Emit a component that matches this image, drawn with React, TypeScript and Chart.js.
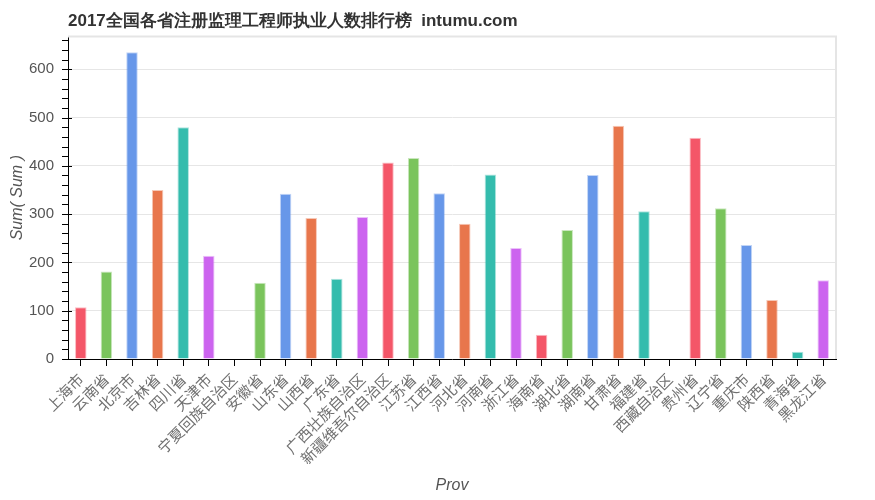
import { useEffect, useRef } from "react";
import { Chart, registerables } from "chart.js";

Chart.register(...registerables);

const provinces = [
  "上海市", "云南省", "北京市", "吉林省", "四川省", "天津市", "宁夏回族自治区", "安徽省",
  "山东省", "山西省", "广东省", "广西壮族自治区", "新疆维吾尔自治区", "江苏省", "江西省",
  "河北省", "河南省", "浙江省", "海南省", "湖北省", "湖南省", "甘肃省", "福建省",
  "西藏自治区", "贵州省", "辽宁省", "重庆市", "陕西省", "青海省", "黑龙江省",
];
const sums = [
  107, 181, 635, 350, 480, 214, 0, 158, 342, 292, 166, 294, 407, 416, 343,
  280, 382, 230, 50, 267, 381, 483, 306, 0, 458, 312, 236, 122, 15, 163,
];
const palette = ["#f45668", "#7ac45c", "#6797e9", "#e8764c", "#34bcad", "#cc64ef"];
const yMax = 668;
const yMajorStep = 100;
const yMinorStep = 20;

const FONT = '"Liberation Sans", Arial, Helvetica, sans-serif';

// top/right frame plus the y tick marks (major ones cross the axis)
const framePlugin = {
  id: "frame",
  afterDraw(chart: Chart) {
    const { ctx, chartArea, scales } = chart;
    const { left, right, top, bottom } = chartArea;
    const y = scales.y;
    ctx.save();
    ctx.strokeStyle = "#e5e5e5";
    ctx.lineWidth = 2;
    ctx.beginPath();
    ctx.moveTo(left, top);
    ctx.lineTo(right, top);
    ctx.lineTo(right, bottom);
    ctx.stroke();

    ctx.strokeStyle = "#000";
    ctx.lineWidth = 1;
    ctx.beginPath();
    for (let v = 0; v <= yMax; v += yMinorStep) {
      const py = Math.round(y.getPixelForValue(v)) + 0.5;
      if (v % yMajorStep === 0) {
        ctx.moveTo(left - 6, py);
        ctx.lineTo(left + 4, py);
      } else {
        ctx.moveTo(left - 6, py);
        ctx.lineTo(left, py);
      }
    }
    ctx.stroke();
    ctx.restore();
  },
};

const App = () => {
  const canvasRef = useRef<HTMLCanvasElement | null>(null);
  const chartRef = useRef<Chart | null>(null);

  useEffect(() => {
    if (!canvasRef.current) return;
    if (chartRef.current) chartRef.current.destroy();

    chartRef.current = new Chart(canvasRef.current, {
      type: "bar",
      data: {
        labels: provinces,
        datasets: [
          {
            data: sums,
            backgroundColor: provinces.map((_, i) => palette[i % palette.length]),
            borderColor: provinces.map((_, i) => palette[i % palette.length] + "66"),
            borderWidth: 1,
            barPercentage: 0.45,
            categoryPercentage: 1,
          },
        ],
      },
      options: {
        responsive: false,
        animation: false,
        layout: { padding: { left: 8, right: 39, top: 0, bottom: 0 } },
        plugins: {
          legend: { display: false },
          tooltip: { enabled: false },
          title: {
            display: true,
            text: "2017全国各省注册监理工程师执业人数排行榜  intumu.com",
            align: "start",
            fullSize: false,
            color: "#333",
            font: { family: FONT, size: 17, weight: "bold" },
            padding: { top: 11, bottom: 5 },
          },
        },
        scales: {
          x: {
            afterFit: (scale: any) => {
              scale.height = 141;
            },
            grid: {
              offset: false,
              drawOnChartArea: false,
              drawTicks: true,
              tickLength: 7,
              tickColor: "#000",
              tickWidth: 1,
            },
            border: { color: "#000", width: 1 },
            ticks: {
              autoSkip: false,
              minRotation: 45,
              maxRotation: 45,
              padding: 4,
              color: "#707070",
              font: { family: '"Noto Sans CJK SC", serif', size: 15 },
            },
            title: {
              display: true,
              text: "Prov",
              color: "#555",
              font: { family: FONT, size: 16, style: "italic" },
              padding: { top: 8, bottom: 5 },
            },
          },
          y: {
            min: 0,
            max: yMax,
            afterFit: (scale: any) => {
              scale.width = 60;
            },
            grid: { color: "#e6e6e6", lineWidth: 1, drawTicks: false },
            border: { color: "#000", width: 1 },
            ticks: {
              stepSize: yMajorStep,
              includeBounds: false,
              padding: 14,
              color: "#555",
              font: { family: FONT, size: 15 },
            },
            title: {
              display: true,
              text: "Sum( Sum )",
              color: "#555",
              font: { family: FONT, size: 16, style: "italic" },
              padding: { top: 0, bottom: 2 },
            },
          },
        },
      },
      plugins: [framePlugin],
    });

    return () => {
      if (chartRef.current) {
        chartRef.current.destroy();
        chartRef.current = null;
      }
    };
  }, []);

  return (
    <div style={{ width: 875, height: 500 }}>
      <style>{`body{margin:0}`}</style>
      <canvas ref={canvasRef} width={875} height={500} style={{ display: "block" }} />
    </div>
  );
};

export default App;
